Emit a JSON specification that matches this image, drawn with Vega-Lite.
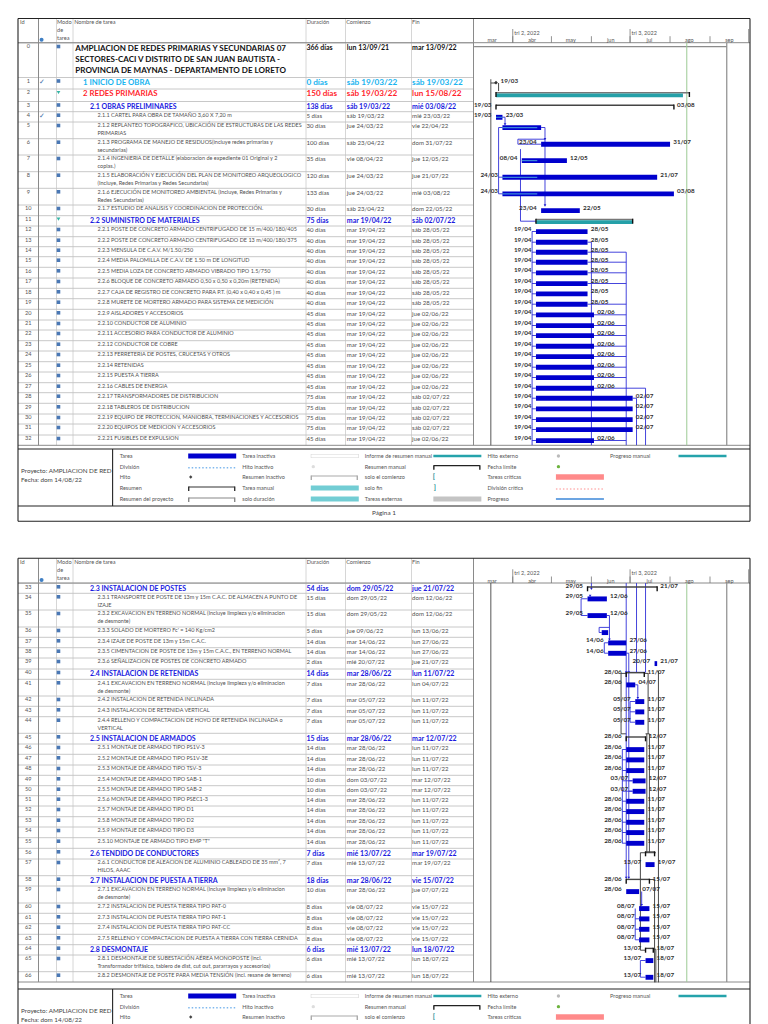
{"$schema":"https://vega.github.io/schema/vega-lite/v6.json","width":768,"height":1024,"padding":0,"autosize":{"type":"none"},"background":"white",
"config":{"font":"Lato","axis":{"disable":true},"legend":{"disable":true},"view":{"stroke":null}},
"datasets":{
"tareas":[
{"id":0,"fila":0,"tipo":"proyecto","nombre":"AMPLIACION DE REDES PRIMARIAS Y SECUNDARIAS 07\nSECTORES-CACI V DISTRITO DE SAN JUAN BAUTISTA -\nPROVINCIA DE MAYNAS - DEPARTAMENTO DE LORETO","dur":"366 días","com":"lun 13/09/21","fin":"mar 13/09/22","ini":"2021-09-13","ter":"2022-09-13","ei":"","ef":""},
{"id":1,"fila":1,"tipo":"inicio","nombre":"1 INICIO DE OBRA","dur":"0 días","com":"sáb 19/03/22","fin":"sáb 19/03/22","ini":"2022-03-19","ter":"2022-03-19","ei":"","ef":"19/03"},
{"id":2,"fila":2,"tipo":"redes","nombre":"2 REDES PRIMARIAS","dur":"150 días","com":"sáb 19/03/22","fin":"lun 15/08/22","ini":"2022-03-19","ter":"2022-08-15","ei":"","ef":"","av":"2022-08-10"},
{"id":3,"fila":3,"tipo":"grupo","nombre":"2.1 OBRAS PRELIMINARES","dur":"138 días","com":"sáb 19/03/22","fin":"mié 03/08/22","ini":"2022-03-19","ter":"2022-08-03","ei":"19/03","ef":"03/08"},
{"id":4,"fila":4,"tipo":"tarea","nombre":"2.1.1 CARTEL PARA OBRA DE TAMAÑO 3,60 X 7,20 m","dur":"5 días","com":"sáb 19/03/22","fin":"mié 23/03/22","ini":"2022-03-19","ter":"2022-03-23","ei":"19/03","ef":"23/03","av":"2022-03-23"},
{"id":5,"fila":5,"tipo":"tarea","nombre":"2.1.2 REPLANTEO TOPOGRAFICO, UBICACIÓN DE ESTRUCTURAS DE LAS REDES\nPRIMARIAS","dur":"30 días","com":"jue 24/03/22","fin":"vie 22/04/22","ini":"2022-03-24","ter":"2022-04-22","ei":"","ef":"","av":"2022-04-19"},
{"id":6,"fila":6,"tipo":"tarea","nombre":"2.1.3 PROGRAMA DE MANEJO DE RESIDUOS(incluye redes primarias y\nsecundarias)","dur":"100 días","com":"sáb 23/04/22","fin":"dom 31/07/22","ini":"2022-04-23","ter":"2022-07-31","ei":"23/04","ef":"31/07"},
{"id":7,"fila":7,"tipo":"tarea","nombre":"2.1.4 INGENIERIA DE DETALLE (elaboracion de expediente 01 Original y 2\ncopias.)","dur":"35 días","com":"vie 08/04/22","fin":"jue 12/05/22","ini":"2022-04-08","ter":"2022-05-12","ei":"08/04","ef":"12/05","av":"2022-04-19"},
{"id":8,"fila":8,"tipo":"tarea","nombre":"2.1.5 ELABORACIÓN Y EJECUCIÓN DEL PLAN DE MONITOREO ARQUEOLOGICO\n(Incluye, Redes Primarias y Redes Secundarias)","dur":"120 días","com":"jue 24/03/22","fin":"jue 21/07/22","ini":"2022-03-24","ter":"2022-07-21","ei":"24/03","ef":"21/07","av":"2022-04-19"},
{"id":9,"fila":9,"tipo":"tarea","nombre":"2.1.6 EJECUCIÓN DE MONITOREO AMBIENTAL (Incluye, Redes Primarias y\nRedes Secundarias)","dur":"133 días","com":"jue 24/03/22","fin":"mié 03/08/22","ini":"2022-03-24","ter":"2022-08-03","ei":"24/03","ef":"03/08","av":"2022-04-19"},
{"id":10,"fila":10,"tipo":"tarea","nombre":"2.1.7 ESTUDIO DE ANALISIS Y COORDINACION DE PROTECCIÓN.","dur":"30 días","com":"sáb 23/04/22","fin":"dom 22/05/22","ini":"2022-04-23","ter":"2022-05-22","ei":"23/04","ef":"22/05"},
{"id":11,"fila":11,"tipo":"grupo","nombre":"2.2 SUMINISTRO DE MATERIALES","dur":"75 días","com":"mar 19/04/22","fin":"sáb 02/07/22","ini":"2022-04-19","ter":"2022-07-02","ei":"","ef":"","av":"2022-07-02"},
{"id":12,"fila":12,"tipo":"tarea","nombre":"2.2.1 POSTE DE CONCRETO ARMADO CENTRIFUGADO DE 15 m/400/180/405","dur":"40 días","com":"mar 19/04/22","fin":"sáb 28/05/22","ini":"2022-04-19","ter":"2022-05-28","ei":"19/04","ef":"28/05"},
{"id":13,"fila":13,"tipo":"tarea","nombre":"2.2.2 POSTE DE CONCRETO ARMADO CENTRIFUGADO DE 13 m/400/180/375","dur":"40 días","com":"mar 19/04/22","fin":"sáb 28/05/22","ini":"2022-04-19","ter":"2022-05-28","ei":"19/04","ef":"28/05"},
{"id":14,"fila":14,"tipo":"tarea","nombre":"2.2.3 MENSULA DE C.A.V. M/1.50/250","dur":"40 días","com":"mar 19/04/22","fin":"sáb 28/05/22","ini":"2022-04-19","ter":"2022-05-28","ei":"19/04","ef":"28/05"},
{"id":15,"fila":15,"tipo":"tarea","nombre":"2.2.4 MEDIA PALOMILLA DE C.A.V. DE 1.50 m DE LONGITUD","dur":"40 días","com":"mar 19/04/22","fin":"sáb 28/05/22","ini":"2022-04-19","ter":"2022-05-28","ei":"19/04","ef":"28/05"},
{"id":16,"fila":16,"tipo":"tarea","nombre":"2.2.5 MEDIA LOZA DE CONCRETO ARMADO VIBRADO TIPO 1.5/750","dur":"40 días","com":"mar 19/04/22","fin":"sáb 28/05/22","ini":"2022-04-19","ter":"2022-05-28","ei":"19/04","ef":"28/05"},
{"id":17,"fila":17,"tipo":"tarea","nombre":"2.2.6 BLOQUE DE CONCRETO ARMADO 0,50 x 0,50 x 0,20m (RETENIDA)","dur":"40 días","com":"mar 19/04/22","fin":"sáb 28/05/22","ini":"2022-04-19","ter":"2022-05-28","ei":"19/04","ef":"28/05"},
{"id":18,"fila":18,"tipo":"tarea","nombre":"2.2.7 CAJA DE REGISTRO DE CONCRETO PARA P.T. (0,40 x 0,40 x 0,45 ) m","dur":"40 días","com":"mar 19/04/22","fin":"sáb 28/05/22","ini":"2022-04-19","ter":"2022-05-28","ei":"19/04","ef":"28/05"},
{"id":19,"fila":19,"tipo":"tarea","nombre":"2.2.8 MURETE DE MORTERO ARMADO PARA SISTEMA DE MEDICIÓN","dur":"40 días","com":"mar 19/04/22","fin":"sáb 28/05/22","ini":"2022-04-19","ter":"2022-05-28","ei":"19/04","ef":"28/05"},
{"id":20,"fila":20,"tipo":"tarea","nombre":"2.2.9 AISLADORES Y ACCESORIOS","dur":"45 días","com":"mar 19/04/22","fin":"jue 02/06/22","ini":"2022-04-19","ter":"2022-06-02","ei":"19/04","ef":"02/06"},
{"id":21,"fila":21,"tipo":"tarea","nombre":"2.2.10 CONDUCTOR DE ALUMINIO","dur":"45 días","com":"mar 19/04/22","fin":"jue 02/06/22","ini":"2022-04-19","ter":"2022-06-02","ei":"19/04","ef":"02/06"},
{"id":22,"fila":22,"tipo":"tarea","nombre":"2.2.11 ACCESORIO PARA CONDUCTOR DE ALUMINIO","dur":"45 días","com":"mar 19/04/22","fin":"jue 02/06/22","ini":"2022-04-19","ter":"2022-06-02","ei":"19/04","ef":"02/06"},
{"id":23,"fila":23,"tipo":"tarea","nombre":"2.2.12 CONDUCTOR DE COBRE","dur":"45 días","com":"mar 19/04/22","fin":"jue 02/06/22","ini":"2022-04-19","ter":"2022-06-02","ei":"19/04","ef":"02/06"},
{"id":24,"fila":24,"tipo":"tarea","nombre":"2.2.13 FERRETERIA DE POSTES, CRUCETAS Y OTROS","dur":"45 días","com":"mar 19/04/22","fin":"jue 02/06/22","ini":"2022-04-19","ter":"2022-06-02","ei":"19/04","ef":"02/06"},
{"id":25,"fila":25,"tipo":"tarea","nombre":"2.2.14 RETENIDAS","dur":"45 días","com":"mar 19/04/22","fin":"jue 02/06/22","ini":"2022-04-19","ter":"2022-06-02","ei":"19/04","ef":"02/06"},
{"id":26,"fila":26,"tipo":"tarea","nombre":"2.2.15 PUESTA A TIERRA","dur":"45 días","com":"mar 19/04/22","fin":"jue 02/06/22","ini":"2022-04-19","ter":"2022-06-02","ei":"19/04","ef":"02/06"},
{"id":27,"fila":27,"tipo":"tarea","nombre":"2.2.16 CABLES DE ENERGIA","dur":"45 días","com":"mar 19/04/22","fin":"jue 02/06/22","ini":"2022-04-19","ter":"2022-06-02","ei":"19/04","ef":"02/06"},
{"id":28,"fila":28,"tipo":"tarea","nombre":"2.2.17 TRANSFORMADORES DE DISTRIBUCION","dur":"75 días","com":"mar 19/04/22","fin":"sáb 02/07/22","ini":"2022-04-19","ter":"2022-07-02","ei":"19/04","ef":"02/07"},
{"id":29,"fila":29,"tipo":"tarea","nombre":"2.2.18 TABLEROS DE DISTRIBUCION","dur":"75 días","com":"mar 19/04/22","fin":"sáb 02/07/22","ini":"2022-04-19","ter":"2022-07-02","ei":"19/04","ef":"02/07"},
{"id":30,"fila":30,"tipo":"tarea","nombre":"2.2.19 EQUIPO DE PROTECCION, MANIOBRA, TERMINACIONES Y ACCESORIOS","dur":"75 días","com":"mar 19/04/22","fin":"sáb 02/07/22","ini":"2022-04-19","ter":"2022-07-02","ei":"19/04","ef":"02/07"},
{"id":31,"fila":31,"tipo":"tarea","nombre":"2.2.20 EQUIPOS DE MEDICION Y ACCESORIOS","dur":"75 días","com":"mar 19/04/22","fin":"sáb 02/07/22","ini":"2022-04-19","ter":"2022-07-02","ei":"19/04","ef":"02/07"},
{"id":32,"fila":32,"tipo":"tarea","nombre":"2.2.21 FUSIBLES DE EXPULSION","dur":"45 días","com":"mar 19/04/22","fin":"jue 02/06/22","ini":"2022-04-19","ter":"2022-06-02","ei":"19/04","ef":"02/06"},
{"id":33,"fila":45,"tipo":"grupo","nombre":"2.3 INSTALACION DE POSTES","dur":"54 días","com":"dom 29/05/22","fin":"jue 21/07/22","ini":"2022-05-29","ter":"2022-07-21","ei":"29/05","ef":"21/07"},
{"id":34,"fila":46,"tipo":"tarea","nombre":"2.3.1 TRANSPORTE DE POSTE DE 13m y 15m C.A.C. DE ALMACEN A PUNTO DE\nIZAJE","dur":"15 días","com":"dom 29/05/22","fin":"dom 12/06/22","ini":"2022-05-29","ter":"2022-06-12","ei":"29/05","ef":"12/06"},
{"id":35,"fila":47,"tipo":"tarea","nombre":"2.3.2 EXCAVACION EN TERRENO NORMAL (Incluye limpieza y/o eliminacion\nde desmonte)","dur":"15 días","com":"dom 29/05/22","fin":"dom 12/06/22","ini":"2022-05-29","ter":"2022-06-12","ei":"29/05","ef":"12/06"},
{"id":36,"fila":48,"tipo":"tarea","nombre":"2.3.3 SOLADO DE MORTERO Fc' = 140 Kg/cm2","dur":"5 días","com":"jue 09/06/22","fin":"lun 13/06/22","ini":"2022-06-09","ter":"2022-06-13","ei":"","ef":""},
{"id":37,"fila":49,"tipo":"tarea","nombre":"2.3.4 IZAJE DE POSTE DE 13m y 15m C.A.C.","dur":"14 días","com":"mar 14/06/22","fin":"lun 27/06/22","ini":"2022-06-14","ter":"2022-06-27","ei":"14/06","ef":"27/06"},
{"id":38,"fila":50,"tipo":"tarea","nombre":"2.3.5 CIMENTACION DE POSTE DE 13m y 15m C.A.C., EN TERRENO NORMAL","dur":"14 días","com":"mar 14/06/22","fin":"lun 27/06/22","ini":"2022-06-14","ter":"2022-06-27","ei":"14/06","ef":"27/06"},
{"id":39,"fila":51,"tipo":"tarea","nombre":"2.3.6 SEÑALIZACION DE POSTES DE CONCRETO ARMADO","dur":"2 días","com":"mié 20/07/22","fin":"jue 21/07/22","ini":"2022-07-20","ter":"2022-07-21","ei":"20/07","ef":"21/07"},
{"id":40,"fila":52,"tipo":"grupo","nombre":"2.4 INSTALACION DE RETENIDAS","dur":"14 días","com":"mar 28/06/22","fin":"lun 11/07/22","ini":"2022-06-28","ter":"2022-07-11","ei":"28/06","ef":"11/07"},
{"id":41,"fila":53,"tipo":"tarea","nombre":"2.4.1 EXCAVACION EN TERRENO NORMAL (Incluye limpieza y/o eliminacion\nde desmonte)","dur":"7 días","com":"mar 28/06/22","fin":"lun 04/07/22","ini":"2022-06-28","ter":"2022-07-04","ei":"28/06","ef":"04/07"},
{"id":42,"fila":54,"tipo":"tarea","nombre":"2.4.2 INSTALACION DE RETENIDA INCLINADA","dur":"7 días","com":"mar 05/07/22","fin":"lun 11/07/22","ini":"2022-07-05","ter":"2022-07-11","ei":"05/07","ef":"11/07"},
{"id":43,"fila":55,"tipo":"tarea","nombre":"2.4.3 INSTALACION DE RETENIDA VERTICAL","dur":"7 días","com":"mar 05/07/22","fin":"lun 11/07/22","ini":"2022-07-05","ter":"2022-07-11","ei":"05/07","ef":"11/07"},
{"id":44,"fila":56,"tipo":"tarea","nombre":"2.4.4 RELLENO Y COMPACTACION DE HOYO DE RETENIDA INCLINADA o\nVERTICAL","dur":"7 días","com":"mar 05/07/22","fin":"lun 11/07/22","ini":"2022-07-05","ter":"2022-07-11","ei":"05/07","ef":"11/07"},
{"id":45,"fila":57,"tipo":"grupo","nombre":"2.5 INSTALACION DE ARMADOS","dur":"15 días","com":"mar 28/06/22","fin":"mar 12/07/22","ini":"2022-06-28","ter":"2022-07-12","ei":"28/06","ef":"12/07"},
{"id":46,"fila":58,"tipo":"tarea","nombre":"2.5.1 MONTAJE DE ARMADO TIPO PS1V-3","dur":"14 días","com":"mar 28/06/22","fin":"lun 11/07/22","ini":"2022-06-28","ter":"2022-07-11","ei":"28/06","ef":"11/07"},
{"id":47,"fila":59,"tipo":"tarea","nombre":"2.5.2 MONTAJE DE ARMADO TIPO PS1V-3E","dur":"14 días","com":"mar 28/06/22","fin":"lun 11/07/22","ini":"2022-06-28","ter":"2022-07-11","ei":"28/06","ef":"11/07"},
{"id":48,"fila":60,"tipo":"tarea","nombre":"2.5.3 MONTAJE DE ARMADO TIPO TSV-3","dur":"14 días","com":"mar 28/06/22","fin":"lun 11/07/22","ini":"2022-06-28","ter":"2022-07-11","ei":"28/06","ef":"11/07"},
{"id":49,"fila":61,"tipo":"tarea","nombre":"2.5.4 MONTAJE DE ARMADO TIPO SAB-1","dur":"10 días","com":"dom 03/07/22","fin":"mar 12/07/22","ini":"2022-07-03","ter":"2022-07-12","ei":"03/07","ef":"12/07"},
{"id":50,"fila":62,"tipo":"tarea","nombre":"2.5.5 MONTAJE DE ARMADO TIPO SAB-2","dur":"10 días","com":"dom 03/07/22","fin":"mar 12/07/22","ini":"2022-07-03","ter":"2022-07-12","ei":"03/07","ef":"12/07"},
{"id":51,"fila":63,"tipo":"tarea","nombre":"2.5.6 MONTAJE DE ARMADO TIPO PSEC1-3","dur":"14 días","com":"mar 28/06/22","fin":"lun 11/07/22","ini":"2022-06-28","ter":"2022-07-11","ei":"28/06","ef":"11/07"},
{"id":52,"fila":64,"tipo":"tarea","nombre":"2.5.7 MONTAJE DE ARMADO TIPO D1","dur":"14 días","com":"mar 28/06/22","fin":"lun 11/07/22","ini":"2022-06-28","ter":"2022-07-11","ei":"28/06","ef":"11/07"},
{"id":53,"fila":65,"tipo":"tarea","nombre":"2.5.8 MONTAJE DE ARMADO TIPO D2","dur":"14 días","com":"mar 28/06/22","fin":"lun 11/07/22","ini":"2022-06-28","ter":"2022-07-11","ei":"28/06","ef":"11/07"},
{"id":54,"fila":66,"tipo":"tarea","nombre":"2.5.9 MONTAJE DE ARMADO TIPO D3","dur":"14 días","com":"mar 28/06/22","fin":"lun 11/07/22","ini":"2022-06-28","ter":"2022-07-11","ei":"28/06","ef":"11/07"},
{"id":55,"fila":67,"tipo":"tarea","nombre":"2.5.10 MONTAJE DE ARMADO TIPO EMP \"T\"","dur":"14 días","com":"mar 28/06/22","fin":"lun 11/07/22","ini":"2022-06-28","ter":"2022-07-11","ei":"28/06","ef":"11/07"},
{"id":56,"fila":68,"tipo":"grupo","nombre":"2.6 TENDIDO DE CONDUCTORES","dur":"7 días","com":"mié 13/07/22","fin":"mar 19/07/22","ini":"2022-07-13","ter":"2022-07-19","ei":"","ef":""},
{"id":57,"fila":69,"tipo":"tarea","nombre":"2.6.1 CONDUCTOR DE ALEACION DE ALUMINIO CABLEADO DE 35 mm², 7\nHILOS, AAAC","dur":"7 días","com":"mié 13/07/22","fin":"mar 19/07/22","ini":"2022-07-13","ter":"2022-07-19","ei":"13/07","ef":"19/07"},
{"id":58,"fila":70,"tipo":"grupo","nombre":"2.7 INSTALACION DE PUESTA A TIERRA","dur":"18 días","com":"mar 28/06/22","fin":"vie 15/07/22","ini":"2022-06-28","ter":"2022-07-15","ei":"28/06","ef":"15/07"},
{"id":59,"fila":71,"tipo":"tarea","nombre":"2.7.1 EXCAVACION EN TERRENO NORMAL (Incluye limpieza y/o eliminacion\nde desmonte)","dur":"10 días","com":"mar 28/06/22","fin":"jue 07/07/22","ini":"2022-06-28","ter":"2022-07-07","ei":"28/06","ef":"07/07"},
{"id":60,"fila":72,"tipo":"tarea","nombre":"2.7.2 INSTALACION DE PUESTA TIERRA TIPO PAT-0","dur":"8 días","com":"vie 08/07/22","fin":"vie 15/07/22","ini":"2022-07-08","ter":"2022-07-15","ei":"08/07","ef":"15/07"},
{"id":61,"fila":73,"tipo":"tarea","nombre":"2.7.3 INSTALACION DE PUESTA TIERRA TIPO PAT-1","dur":"8 días","com":"vie 08/07/22","fin":"vie 15/07/22","ini":"2022-07-08","ter":"2022-07-15","ei":"08/07","ef":"15/07"},
{"id":62,"fila":74,"tipo":"tarea","nombre":"2.7.4 INSTALACION DE PUESTA TIERRA TIPO PAT-CC","dur":"8 días","com":"vie 08/07/22","fin":"vie 15/07/22","ini":"2022-07-08","ter":"2022-07-15","ei":"08/07","ef":"15/07"},
{"id":63,"fila":75,"tipo":"tarea","nombre":"2.7.5 RELLENO Y COMPACTACION DE PUESTA A TIERRA CON TIERRA CERNIDA","dur":"8 días","com":"vie 08/07/22","fin":"vie 15/07/22","ini":"2022-07-08","ter":"2022-07-15","ei":"08/07","ef":"15/07"},
{"id":64,"fila":76,"tipo":"grupo","nombre":"2.8 DESMONTAJE","dur":"6 días","com":"mié 13/07/22","fin":"lun 18/07/22","ini":"2022-07-13","ter":"2022-07-18","ei":"13/07","ef":"18/07"},
{"id":65,"fila":77,"tipo":"tarea","nombre":"2.8.1 DESMONTAJE DE SUBESTACIÓN AÉREA MONOPOSTE (incl.\nTransformador trifásico, tablero de dist, cut out, pararrayos y accesorios)","dur":"6 días","com":"mié 13/07/22","fin":"lun 18/07/22","ini":"2022-07-13","ter":"2022-07-18","ei":"13/07","ef":"18/07"},
{"id":66,"fila":78,"tipo":"tarea","nombre":"2.8.2 DESMONTAJE DE POSTE PARA MEDIA TENSIÓN (incl. resane de terreno)","dur":"6 días","com":"mié 13/07/22","fin":"lun 18/07/22","ini":"2022-07-13","ter":"2022-07-18","ei":"13/07","ef":"18/07"}
],
"lineas":[
{"tono":"borde","col":0,"col2":8,"fila":-2,"fila2":-2},{"tono":"borde","col":0,"col2":8,"fila":34,"fila2":34},{"tono":"borde","col":0,"col2":8,"fila":40,"fila2":40},{"tono":"borde","col":0,"col2":8,"fila":42,"fila2":42},{"tono":"borde","col":0,"col2":0,"fila":-2,"fila2":42},{"tono":"borde","col":8,"col2":8,"fila":-2,"fila2":42},{"tono":"borde","col":3.17,"col2":3.17,"fila":34,"fila2":40},
{"tono":"borde","col":0,"col2":8,"fila":43,"fila2":43},{"tono":"borde","col":0,"col2":8,"fila":80,"fila2":80},{"tono":"borde","col":0,"col2":0,"fila":43,"fila2":86},{"tono":"borde","col":8,"col2":8,"fila":43,"fila2":86},{"tono":"borde","col":3.17,"col2":3.17,"fila":80,"fila2":86},
{"tono":"medio","col":0,"col2":8,"fila":-1,"fila2":-1},{"tono":"medio","col":0,"col2":8,"fila":33,"fila2":33},{"tono":"medio","col":1,"col2":1,"fila":-2,"fila2":33},{"tono":"medio","col":7,"col2":7,"fila":-2,"fila2":33},
{"tono":"medio","col":0,"col2":8,"fila":44,"fila2":44},{"tono":"medio","col":0,"col2":8,"fila":79,"fila2":79},{"tono":"medio","col":1,"col2":1,"fila":43,"fila2":79},{"tono":"medio","col":7,"col2":7,"fila":43,"fila2":79},
{"tono":"claro","col":2,"col2":2,"fila":-2,"fila2":33},{"tono":"claro","col":3,"col2":3,"fila":-2,"fila2":33},{"tono":"claro","col":4,"col2":4,"fila":-2,"fila2":33},{"tono":"claro","col":5,"col2":5,"fila":-2,"fila2":33},{"tono":"claro","col":6,"col2":6,"fila":-2,"fila2":33},
{"tono":"claro","col":2,"col2":2,"fila":43,"fila2":79},{"tono":"claro","col":3,"col2":3,"fila":43,"fila2":79},{"tono":"claro","col":4,"col2":4,"fila":43,"fila2":79},{"tono":"claro","col":5,"col2":5,"fila":43,"fila2":79},{"tono":"claro","col":6,"col2":6,"fila":43,"fila2":79}
],
"cabecera":[
{"fila":-2,"col":0.1,"texto":"Id"},{"fila":-2,"col":2.03,"texto":"Modo\nde\ntarea"},{"fila":-2,"col":3.005,"texto":"Nombre de tarea"},{"fila":-2,"col":4.02,"texto":"Duración"},{"fila":-2,"col":5.01,"texto":"Comienzo"},{"fila":-2,"col":6.01,"texto":"Fin"},
{"fila":43,"col":0.1,"texto":"Id"},{"fila":43,"col":2.03,"texto":"Modo\nde\ntarea"},{"fila":43,"col":3.005,"texto":"Nombre de tarea"},{"fila":43,"col":4.02,"texto":"Duración"},{"fila":43,"col":5.01,"texto":"Comienzo"},{"fila":43,"col":6.01,"texto":"Fin"}
],
"paginas":[{"fila":-1},{"fila":44}],
"pies":[{"fila":36.17,"texto":"Proyecto: AMPLIACION DE RED\nFecha: dom 14/08/22"},{"fila":82.17,"texto":"Proyecto: AMPLIACION DE RED\nFecha: dom 14/08/22"}],
"meses":[
{"fila":-1,"mes":"mar","medio":"2022-03-16"},{"fila":-1,"mes":"abr","inicio":"2022-04-01","medio":"2022-04-16","tri":"tri 2, 2022"},{"fila":-1,"mes":"may","inicio":"2022-05-01","medio":"2022-05-16"},{"fila":-1,"mes":"jun","inicio":"2022-06-01","medio":"2022-06-16"},{"fila":-1,"mes":"jul","inicio":"2022-07-01","medio":"2022-07-16","tri":"tri 3, 2022"},{"fila":-1,"mes":"ago","inicio":"2022-08-01","medio":"2022-08-16"},{"fila":-1,"mes":"sep","inicio":"2022-09-01","medio":"2022-09-16"},
{"fila":44,"mes":"mar","medio":"2022-03-16"},{"fila":44,"mes":"abr","inicio":"2022-04-01","medio":"2022-04-16","tri":"tri 2, 2022"},{"fila":44,"mes":"may","inicio":"2022-05-01","medio":"2022-05-16"},{"fila":44,"mes":"jun","inicio":"2022-06-01","medio":"2022-06-16"},{"fila":44,"mes":"jul","inicio":"2022-07-01","medio":"2022-07-16","tri":"tri 3, 2022"},{"fila":44,"mes":"ago","inicio":"2022-08-01","medio":"2022-08-16"},{"fila":44,"mes":"sep","inicio":"2022-09-01","medio":"2022-09-16"}
],
"finaltri":[{"fila":-1,"fecha":"2022-10-01"},{"fila":44,"fecha":"2022-10-01"}],
"guias":[
{"c":"gris","x1":"2022-03-02","x2":"2022-09-14","fila":0.107,"f2":0.107},{"c":"gris","x1":"2022-09-14","x2":"2022-09-14","fila":0,"f2":33},{"c":"gris","x1":"2022-09-14","x2":"2022-09-14","fila":44,"f2":79},
{"c":"verde","x1":"2022-08-14","x2":"2022-08-14","fila":0,"f2":33},{"c":"verde","x1":"2022-08-14","x2":"2022-08-14","fila":44,"f2":79},
{"c":"negro","x1":"2022-03-15","x2":"2022-03-15","fila":1.15,"f2":33},{"c":"negro","x1":"2022-03-15","x2":"2022-03-15","fila":44,"f2":79}
],
"enlaces":[
{"c":"n","x1":"2022-03-15","x2":"2022-03-19","fila":1,"f2":1},{"c":"n","x1":"2022-03-21","x2":"2022-03-21","fila":1,"f2":1.7},
{"c":"a","x1":"2022-03-24","x2":"2022-03-26","fila":4,"f2":4},{"c":"a","x1":"2022-03-26","x2":"2022-03-26","fila":4,"f2":4.7},
{"c":"a","x1":"2022-03-21","x2":"2022-03-21","fila":5,"f2":9},{"c":"a","x1":"2022-03-21","x2":"2022-03-24","fila":5,"f2":5},{"c":"a","x1":"2022-03-21","x2":"2022-03-24","fila":8,"f2":8},{"c":"a","x1":"2022-03-21","x2":"2022-03-24","fila":9,"f2":9},
{"c":"a","x1":"2022-04-23","x2":"2022-04-26","fila":5,"f2":5},{"c":"a","x1":"2022-04-26","x2":"2022-04-26","fila":5,"f2":9.7},{"c":"a","x1":"2022-04-05","x2":"2022-04-26","fila":5.7,"f2":5.7},{"c":"a","x1":"2022-04-05","x2":"2022-04-05","fila":5.7,"f2":6},{"c":"a","x1":"2022-04-05","x2":"2022-04-23","fila":6,"f2":6},
{"c":"a","x1":"2022-04-07","x2":"2022-04-07","fila":6.3,"f2":11},{"c":"a","x1":"2022-04-07","x2":"2022-04-19","fila":11,"f2":11},
{"c":"a","x1":"2022-04-16","x2":"2022-04-16","fila":12,"f2":32.45},
{"c":"a","x1":"2022-05-29","x2":"2022-06-01","fila":13,"f2":13},{"c":"a","x1":"2022-06-01","x2":"2022-06-01","fila":13,"f2":32.45},
{"c":"a","x1":"2022-06-28","x2":"2022-06-28","fila":14,"f2":32.45},
{"c":"a","x1":"2022-05-29","x2":"2022-06-28","fila":14,"f2":14},{"c":"a","x1":"2022-05-29","x2":"2022-06-28","fila":15,"f2":15},{"c":"a","x1":"2022-05-29","x2":"2022-06-28","fila":16,"f2":16},{"c":"a","x1":"2022-05-29","x2":"2022-06-28","fila":17,"f2":17},{"c":"a","x1":"2022-05-29","x2":"2022-06-28","fila":19,"f2":19},
{"c":"a","x1":"2022-06-03","x2":"2022-06-28","fila":20,"f2":20},{"c":"a","x1":"2022-06-03","x2":"2022-06-28","fila":21,"f2":21},{"c":"a","x1":"2022-06-03","x2":"2022-06-28","fila":22,"f2":22},{"c":"a","x1":"2022-06-03","x2":"2022-06-28","fila":23,"f2":23},{"c":"a","x1":"2022-06-03","x2":"2022-06-28","fila":24,"f2":24},{"c":"a","x1":"2022-06-03","x2":"2022-06-28","fila":25,"f2":25},{"c":"a","x1":"2022-06-03","x2":"2022-06-28","fila":26,"f2":26},{"c":"a","x1":"2022-06-03","x2":"2022-06-28","fila":32,"f2":32},
{"c":"a","x1":"2022-06-03","x2":"2022-07-13","fila":27,"f2":27},{"c":"a","x1":"2022-07-13","x2":"2022-07-13","fila":27,"f2":32.45},
{"c":"a","x1":"2022-07-03","x2":"2022-07-06","fila":28,"f2":28},{"c":"a","x1":"2022-07-06","x2":"2022-07-06","fila":28,"f2":32.45},
{"c":"a","x1":"2022-06-01","x2":"2022-06-01","fila":43.78,"f2":45},
{"c":"a","x1":"2022-06-28","x2":"2022-06-28","fila":43.78,"f2":69.8},{"c":"a","x1":"2022-07-06","x2":"2022-07-06","fila":43.78,"f2":51.8},{"c":"a","x1":"2022-07-13","x2":"2022-07-13","fila":43.78,"f2":51.8},{"c":"a","x1":"2022-06-28","x2":"2022-07-13","fila":51.8,"f2":51.8},
{"c":"a","x1":"2022-06-30","x2":"2022-06-30","fila":50,"f2":69.8},{"c":"a","x1":"2022-06-28","x2":"2022-06-30","fila":50,"f2":50},
{"c":"a","x1":"2022-05-24","x2":"2022-05-24","fila":46,"f2":47},{"c":"a","x1":"2022-05-24","x2":"2022-05-29","fila":46,"f2":46},{"c":"a","x1":"2022-05-24","x2":"2022-05-29","fila":47,"f2":47},
{"c":"a","x1":"2022-06-13","x2":"2022-06-15","fila":47,"f2":47},{"c":"a","x1":"2022-06-15","x2":"2022-06-15","fila":47,"f2":48.7},{"c":"a","x1":"2022-06-07","x2":"2022-06-15","fila":47.7,"f2":47.7},{"c":"a","x1":"2022-06-07","x2":"2022-06-07","fila":47.7,"f2":48},{"c":"a","x1":"2022-06-07","x2":"2022-06-09","fila":48,"f2":48},
{"c":"a","x1":"2022-06-11","x2":"2022-06-11","fila":49,"f2":50},{"c":"a","x1":"2022-06-11","x2":"2022-06-14","fila":49,"f2":49},{"c":"a","x1":"2022-06-11","x2":"2022-06-14","fila":50,"f2":50},
{"c":"a","x1":"2022-07-07","x2":"2022-07-07","fila":53,"f2":53.8},{"c":"a","x1":"2022-07-05","x2":"2022-07-07","fila":53,"f2":53},
{"c":"a","x1":"2022-07-01","x2":"2022-07-01","fila":54,"f2":56},{"c":"a","x1":"2022-07-01","x2":"2022-07-05","fila":54,"f2":54},{"c":"a","x1":"2022-07-01","x2":"2022-07-05","fila":55,"f2":55},{"c":"a","x1":"2022-07-01","x2":"2022-07-05","fila":56,"f2":56},
{"c":"a","x1":"2022-06-25","x2":"2022-06-25","fila":58,"f2":67},{"c":"a","x1":"2022-06-25","x2":"2022-07-03","fila":61,"f2":61},{"c":"a","x1":"2022-06-25","x2":"2022-07-03","fila":62,"f2":62},
{"c":"a","x1":"2022-07-10","x2":"2022-07-10","fila":71,"f2":71.8},{"c":"a","x1":"2022-07-05","x2":"2022-07-05","fila":72,"f2":75},{"c":"a","x1":"2022-07-05","x2":"2022-07-08","fila":73,"f2":73},{"c":"a","x1":"2022-07-05","x2":"2022-07-08","fila":74,"f2":74},{"c":"a","x1":"2022-07-05","x2":"2022-07-08","fila":75,"f2":75},
{"c":"a","x1":"2022-07-09","x2":"2022-07-09","fila":77,"f2":78},{"c":"a","x1":"2022-07-09","x2":"2022-07-13","fila":77,"f2":77},{"c":"a","x1":"2022-07-09","x2":"2022-07-13","fila":78,"f2":78},
{"c":"n","x1":"2022-06-24","x2":"2022-06-24","fila":51.9,"f2":56.7},{"c":"n","x1":"2022-06-24","x2":"2022-06-28","fila":51.9,"f2":51.9},{"c":"n","x1":"2022-06-24","x2":"2022-06-28","fila":56.7,"f2":56.7},
{"c":"n","x1":"2022-07-15","x2":"2022-07-15","fila":51.9,"f2":56.7},{"c":"n","x1":"2022-07-12","x2":"2022-07-15","fila":51.9,"f2":51.9},
{"c":"n","x1":"2022-07-23","x2":"2022-07-23","fila":51.7,"f2":78.5},{"c":"n","x1":"2022-07-22","x2":"2022-07-23","fila":51.7,"f2":51.7},
{"c":"n","x1":"2022-07-14","x2":"2022-07-14","fila":56.7,"f2":67.9},{"c":"n","x1":"2022-07-16","x2":"2022-07-16","fila":56.7,"f2":67.9},{"c":"n","x1":"2022-07-13","x2":"2022-07-16","fila":56.7,"f2":56.7},
{"c":"n","x1":"2022-07-09","x2":"2022-07-09","fila":67.9,"f2":76},{"c":"n","x1":"2022-07-09","x2":"2022-07-21","fila":67.9,"f2":67.9},{"c":"n","x1":"2022-07-09","x2":"2022-07-13","fila":76,"f2":76},
{"c":"n","x1":"2022-07-20","x2":"2022-07-20","fila":69.9,"f2":78.5},{"c":"n","x1":"2022-07-16","x2":"2022-07-20","fila":69.9,"f2":69.9},
{"c":"n","x1":"2022-07-21","x2":"2022-07-21","fila":75.9,"f2":78.5},{"c":"n","x1":"2022-07-19","x2":"2022-07-21","fila":75.9,"f2":75.9}
],
"flechas":[
{"fecha":"2022-03-26","fila":4.7},{"fecha":"2022-04-26","fila":5.7},{"fecha":"2022-04-26","fila":9.7},{"fecha":"2022-06-01","fila":45},{"fecha":"2022-05-31","fila":45.7},{"fecha":"2022-06-15","fila":48.7},{"fecha":"2022-06-28","fila":51.8},{"fecha":"2022-06-30","fila":51.8},{"fecha":"2022-07-07","fila":53.8},{"fecha":"2022-06-28","fila":69.8},{"fecha":"2022-06-30","fila":69.8},{"fecha":"2022-07-10","fila":71.8}
],
"leyenda":[
{"col":1,"fila":35,"etiqueta":"Tarea"},{"col":1,"fila":36,"etiqueta":"División"},{"col":1,"fila":37,"etiqueta":"Hito"},{"col":1,"fila":38,"etiqueta":"Resumen"},{"col":1,"fila":39,"etiqueta":"Resumen del proyecto"},
{"col":2,"fila":35,"etiqueta":"Tarea inactiva"},{"col":2,"fila":36,"etiqueta":"Hito inactivo"},{"col":2,"fila":37,"etiqueta":"Resumen inactivo"},{"col":2,"fila":38,"etiqueta":"Tarea manual"},{"col":2,"fila":39,"etiqueta":"solo duración"},
{"col":3,"fila":35,"etiqueta":"Informe de resumen manual"},{"col":3,"fila":36,"etiqueta":"Resumen manual"},{"col":3,"fila":37,"etiqueta":"solo el comienzo"},{"col":3,"fila":38,"etiqueta":"solo fin"},{"col":3,"fila":39,"etiqueta":"Tareas externas"},
{"col":4,"fila":35,"etiqueta":"Hito externo"},{"col":4,"fila":36,"etiqueta":"Fecha límite"},{"col":4,"fila":37,"etiqueta":"Tareas críticas"},{"col":4,"fila":38,"etiqueta":"División crítica"},{"col":4,"fila":39,"etiqueta":"Progreso"},
{"col":5,"fila":35,"etiqueta":"Progreso manual"},
{"col":1,"fila":81,"etiqueta":"Tarea"},{"col":1,"fila":82,"etiqueta":"División"},{"col":1,"fila":83,"etiqueta":"Hito"},
{"col":2,"fila":81,"etiqueta":"Tarea inactiva"},{"col":2,"fila":82,"etiqueta":"Hito inactivo"},{"col":2,"fila":83,"etiqueta":"Resumen inactivo"},
{"col":3,"fila":81,"etiqueta":"Informe de resumen manual"},{"col":3,"fila":82,"etiqueta":"Resumen manual"},{"col":3,"fila":83,"etiqueta":"solo el comienzo"},
{"col":4,"fila":81,"etiqueta":"Hito externo"},{"col":4,"fila":82,"etiqueta":"Fecha límite"},{"col":4,"fila":83,"etiqueta":"Tareas críticas"},
{"col":5,"fila":81,"etiqueta":"Progreso manual"}
]
},
"encoding":{"y":{"field":"fila","type":"quantitative","axis":null,"scale":{"zero":false,"nice":false,
"domain":[-2,-1,0,1,2,3,4,5,6,7,8,9,10,11,12,13,14,15,16,17,18,19,20,21,22,23,24,25,26,27,28,29,30,31,32,33,34,35,36,37,38,39,40,41,42,43,44,45,46,47,48,49,50,51,52,53,54,55,56,57,58,59,60,61,62,63,64,65,66,67,68,69,70,71,72,73,74,75,76,77,78,79,80,81,82,83,84,85,86],
"range":[18.5,42.7,43,77.5,89,101.5,111.7,122,138.7,155,171.7,188.3,205,215.7,226,236.7,246.7,256.7,267.3,278,288.3,298.7,309.3,320,330,340.7,351,361.7,372,382.7,392.7,403.3,414,424,435,445.3,449,456,466.7,477,488,499,506,513,521.3,558.3,583,583.3,593.3,610,627,637.3,647.7,658,669,679.3,696,706.3,716.7,733.3,744,754.3,765,775.3,785.7,795.7,806,816.7,827,837.7,848.3,859,875.7,886,903,913.3,923.7,934.3,944.7,955,971.7,982,989,996,1006.7,1017,1028,1039,1046]}}},
"layer":[
{"layer":[
{"data":{"name":"lineas"},"transform":[{"filter":"datum.tono=='claro'"}],"mark":{"type":"rule","color":"#cccccc","strokeWidth":0.8},"encoding":{"x":{"field":"col","type":"quantitative","axis":null,"scale":{"zero":false,"nice":false,"domain":[0,1,2,3,4,5,6,7,8],"range":[18,38.5,56.5,73,306,345.5,411.5,473.5,750]}},"x2":{"field":"col2"},"y2":{"field":"fila2"}}},
{"data":{"name":"tareas"},"mark":{"type":"rule","color":"#c2c2c2","strokeWidth":0.9},"encoding":{"x":{"datum":0,"type":"quantitative"},"x2":{"datum":7}}},
{"data":{"name":"lineas"},"transform":[{"filter":"datum.tono=='medio'"}],"mark":{"type":"rule","color":"#8a8a8a","strokeWidth":1},"encoding":{"x":{"field":"col","type":"quantitative"},"x2":{"field":"col2"},"y2":{"field":"fila2"}}},
{"data":{"name":"lineas"},"transform":[{"filter":"datum.tono=='borde'"}],"mark":{"type":"rule","color":"#222222","strokeWidth":1.1},"encoding":{"x":{"field":"col","type":"quantitative"},"x2":{"field":"col2"},"y2":{"field":"fila2"}}},
{"data":{"name":"cabecera"},"mark":{"type":"text","align":"left","baseline":"top","dy":1.6,"fontSize":5.6,"lineHeight":8,"lineBreak":"\n","color":"#555555"},"encoding":{"x":{"field":"col","type":"quantitative"},"text":{"field":"texto"}}},
{"data":{"name":"paginas"},"mark":{"type":"point","shape":"circle","filled":true,"size":16,"opacity":1,"color":"#3f7fc4","yOffset":-3},"encoding":{"x":{"datum":1.17,"type":"quantitative"}}},
{"data":{"name":"tareas"},"mark":{"type":"text","align":"center","baseline":"top","dy":1.4,"fontSize":5.6,"color":"#555555"},"encoding":{"x":{"datum":0.5,"type":"quantitative"},"text":{"field":"id"}}},
{"data":{"name":"tareas"},"transform":[{"filter":"datum.id==2||datum.id==11"}],"mark":{"type":"point","shape":"triangle-down","filled":true,"size":14,"opacity":1,"color":"#35b5a5","yOffset":3.5},"encoding":{"x":{"datum":2.12,"type":"quantitative"}}},
{"data":{"name":"tareas"},"transform":[{"filter":"datum.id!=2&&datum.id!=11"}],"mark":{"type":"point","shape":"square","filled":true,"size":13,"opacity":1,"color":"#4a78b5","yOffset":3.5},"encoding":{"x":{"datum":2.12,"type":"quantitative"}}},
{"data":{"name":"tareas"},"transform":[{"filter":"datum.id==1||datum.id==4"}],"mark":{"type":"text","text":"✓","font":"DejaVu Sans","align":"center","baseline":"top","dy":0.5,"fontSize":7,"color":"#3b6ea5"},"encoding":{"x":{"datum":1.19,"type":"quantitative"}}},
{"data":{"name":"tareas"},"transform":[{"filter":"datum.tipo=='proyecto'"}],"mark":{"type":"text","align":"left","baseline":"top","dy":1.5,"fontSize":8.05,"fontWeight":"bold","lineHeight":11,"lineBreak":"\n","color":"#111111"},"encoding":{"x":{"datum":3.01,"type":"quantitative"},"text":{"field":"nombre"}}},
{"data":{"name":"tareas"},"transform":[{"filter":"datum.tipo=='inicio'||datum.tipo=='redes'"}],"mark":{"type":"text","align":"left","baseline":"top","dy":1.2,"fontSize":7.8,"fontWeight":"bold"},"encoding":{"x":{"datum":3.043,"type":"quantitative"},"text":{"field":"nombre"},"color":{"field":"tipo","type":"nominal","scale":{"domain":["proyecto","inicio","redes","grupo","tarea"],"range":["#111111","#18b4f0","#ff1f2d","#1a1ae0","#505050"]}}}},
{"data":{"name":"tareas"},"transform":[{"filter":"datum.tipo=='grupo'"}],"mark":{"type":"text","align":"left","baseline":"top","dy":1.2,"fontSize":7,"fontWeight":"bold","color":"#1a1ae0"},"encoding":{"x":{"datum":3.073,"type":"quantitative"},"text":{"field":"nombre"}}},
{"data":{"name":"tareas"},"transform":[{"filter":"datum.tipo=='tarea'"}],"mark":{"type":"text","align":"left","baseline":"top","dy":1.4,"fontSize":5.5,"lineHeight":8,"lineBreak":"\n","color":"#505050"},"encoding":{"x":{"datum":3.105,"type":"quantitative"},"text":{"field":"nombre"}}},
{"data":{"name":"tareas"},"transform":[{"filter":"datum.tipo=='tarea'"}],"mark":{"type":"text","align":"left","baseline":"top","dy":1.4,"fontSize":6.1,"color":"#505050"},"encoding":{"x":{"datum":4.01,"type":"quantitative"},"text":{"field":"dur"}}},
{"data":{"name":"tareas"},"transform":[{"filter":"datum.tipo=='tarea'"}],"mark":{"type":"text","align":"left","baseline":"top","dy":1.4,"fontSize":6.1,"color":"#505050"},"encoding":{"x":{"datum":5.02,"type":"quantitative"},"text":{"field":"com"}}},
{"data":{"name":"tareas"},"transform":[{"filter":"datum.tipo=='tarea'"}],"mark":{"type":"text","align":"left","baseline":"top","dy":1.4,"fontSize":6.1,"color":"#505050"},"encoding":{"x":{"datum":6.01,"type":"quantitative"},"text":{"field":"fin"}}},
{"data":{"name":"tareas"},"transform":[{"filter":"datum.tipo!='tarea'"}],"mark":{"type":"text","align":"left","baseline":"top","dy":1.2,"fontWeight":"bold"},"encoding":{"x":{"datum":4.01,"type":"quantitative"},"text":{"field":"dur"},"color":{"field":"tipo","type":"nominal"},"size":{"field":"tipo","type":"nominal","scale":{"type":"ordinal","domain":["proyecto","inicio","redes","grupo"],"range":[7,8.2,8.2,7]}}}},
{"data":{"name":"tareas"},"transform":[{"filter":"datum.tipo!='tarea'"}],"mark":{"type":"text","align":"left","baseline":"top","dy":1.2,"fontWeight":"bold"},"encoding":{"x":{"datum":5.02,"type":"quantitative"},"text":{"field":"com"},"color":{"field":"tipo","type":"nominal"},"size":{"field":"tipo","type":"nominal","scale":{"type":"ordinal","domain":["proyecto","inicio","redes","grupo"],"range":[7,8.2,8.2,7]}}}},
{"data":{"name":"tareas"},"transform":[{"filter":"datum.tipo!='tarea'"}],"mark":{"type":"text","align":"left","baseline":"top","dy":1.2,"fontWeight":"bold"},"encoding":{"x":{"datum":6.01,"type":"quantitative"},"text":{"field":"fin"},"color":{"field":"tipo","type":"nominal"},"size":{"field":"tipo","type":"nominal","scale":{"type":"ordinal","domain":["proyecto","inicio","redes","grupo"],"range":[7,8.2,8.2,7]}}}}
]},
{"layer":[
{"data":{"name":"meses"},"transform":[{"filter":"datum.inicio"}],"mark":{"type":"rule","color":"#777777","strokeWidth":0.8,"yOffset":-6.5,"y2Offset":0},"encoding":{"x":{"field":"inicio","type":"temporal","axis":null,"scale":{"domain":["2022-03-19","2022-09-01"],"range":[496,710]}},"y2":{"field":"fila"}}},
{"data":{"name":"meses"},"transform":[{"filter":"datum.tri"}],"mark":{"type":"rule","color":"#777777","strokeWidth":0.8,"yOffset":-13.7,"y2Offset":0},"encoding":{"x":{"field":"inicio","type":"temporal"},"y2":{"field":"fila"}}},
{"data":{"name":"finaltri"},"mark":{"type":"rule","color":"#777777","strokeWidth":0.8,"yOffset":-13.7,"y2Offset":0},"encoding":{"x":{"field":"fecha","type":"temporal"},"y2":{"field":"fila"}}},
{"data":{"name":"meses"},"mark":{"type":"text","align":"center","baseline":"middle","dy":-2.5,"fontSize":5.5,"color":"#555555"},"encoding":{"x":{"field":"medio","type":"temporal"},"text":{"field":"mes"}}},
{"data":{"name":"meses"},"transform":[{"filter":"datum.tri"}],"mark":{"type":"text","align":"left","baseline":"middle","dy":-9.7,"dx":1.5,"fontSize":5.5,"color":"#555555"},"encoding":{"x":{"field":"inicio","type":"temporal"},"text":{"field":"tri"}}},
{"data":{"name":"guias"},"transform":[{"filter":"datum.c=='gris'"}],"mark":{"type":"rule","color":"#8c8c8c","strokeWidth":1.2},"encoding":{"x":{"field":"x1","type":"temporal"},"x2":{"field":"x2"},"y2":{"field":"f2"}}},
{"data":{"name":"guias"},"transform":[{"filter":"datum.c=='verde'"}],"mark":{"type":"rule","color":"#9ccb94","strokeWidth":1},"encoding":{"x":{"field":"x1","type":"temporal"},"x2":{"field":"x2"},"y2":{"field":"f2"}}},
{"data":{"name":"guias"},"transform":[{"filter":"datum.c=='negro'"}],"mark":{"type":"rule","color":"#444444","strokeWidth":0.9},"encoding":{"x":{"field":"x1","type":"temporal"},"x2":{"field":"x2"},"y2":{"field":"f2"}}},
{"data":{"name":"enlaces"},"transform":[{"filter":"datum.c=='n'"}],"mark":{"type":"rule","color":"#333333","strokeWidth":0.9,"yOffset":5.5,"y2Offset":5.5},"encoding":{"x":{"field":"x1","type":"temporal"},"x2":{"field":"x2"},"y2":{"field":"f2"}}},
{"data":{"name":"enlaces"},"transform":[{"filter":"datum.c=='a'"}],"mark":{"type":"rule","color":"#3030d8","strokeWidth":0.9,"yOffset":5.5,"y2Offset":5.5},"encoding":{"x":{"field":"x1","type":"temporal"},"x2":{"field":"x2"},"y2":{"field":"f2"}}},
{"data":{"name":"flechas"},"mark":{"type":"point","shape":"triangle-down","filled":true,"size":7,"opacity":1,"color":"#2020d0","yOffset":5.5},"encoding":{"x":{"field":"fecha","type":"temporal"}}},
{"data":{"name":"tareas"},"transform":[{"filter":"(datum.id>=12&&datum.id<=32)||(datum.id>=46&&datum.id<=55)"}],"mark":{"type":"rule","color":"#3030d8","strokeWidth":0.9,"xOffset":-4,"x2Offset":0,"yOffset":5.5},"encoding":{"x":{"field":"ini","type":"temporal"},"x2":{"field":"ini"}}},
{"data":{"name":"tareas"},"transform":[{"filter":"datum.tipo=='tarea'"}],"mark":{"type":"rule","color":"#0000cd","strokeWidth":4.9,"yOffset":5.6,"x2Offset":1.3},"encoding":{"x":{"field":"ini","type":"temporal"},"x2":{"field":"ter"}}},
{"data":{"name":"tareas"},"transform":[{"filter":"datum.tipo=='tarea'&&datum.av"}],"mark":{"type":"rule","color":"#3b87d8","strokeWidth":1.2,"yOffset":5.6,"x2Offset":1.3},"encoding":{"x":{"field":"ini","type":"temporal"},"x2":{"field":"av"}}},
{"data":{"name":"tareas"},"transform":[{"filter":"datum.tipo=='grupo'&&datum.id!=11"}],"mark":{"type":"rule","color":"#444444","strokeWidth":1.4,"yOffset":3.7,"x2Offset":1.3},"encoding":{"x":{"field":"ini","type":"temporal"},"x2":{"field":"ter"}}},
{"data":{"name":"tareas"},"transform":[{"filter":"datum.id==2||datum.id==11"}],"mark":{"type":"rule","color":"#777777","strokeWidth":1.5,"yOffset":3.8,"x2Offset":1.3},"encoding":{"x":{"field":"ini","type":"temporal"},"x2":{"field":"ter"}}},
{"data":{"name":"tareas"},"transform":[{"filter":"datum.id==2||datum.id==11"}],"mark":{"type":"rule","color":"#25a0a8","strokeWidth":3.6,"yOffset":6.4,"x2Offset":1.3},"encoding":{"x":{"field":"ini","type":"temporal"},"x2":{"field":"av"}}},
{"data":{"name":"tareas"},"transform":[{"filter":"datum.tipo=='grupo'||datum.id==2"}],"mark":{"type":"rule","color":"#111111","strokeWidth":1.4,"yOffset":3,"y2Offset":8},"encoding":{"x":{"field":"ini","type":"temporal"},"y2":{"field":"fila"}}},
{"data":{"name":"tareas"},"transform":[{"filter":"datum.tipo=='grupo'||datum.id==2"}],"mark":{"type":"rule","color":"#111111","strokeWidth":1.4,"yOffset":3,"y2Offset":8,"xOffset":1.3},"encoding":{"x":{"field":"ter","type":"temporal"},"y2":{"field":"fila"}}},
{"data":{"name":"tareas"},"transform":[{"filter":"datum.id==1"}],"mark":{"type":"point","shape":"diamond","filled":true,"size":14,"opacity":1,"color":"#333333","yOffset":5.2},"encoding":{"x":{"field":"ini","type":"temporal"}}},
{"data":{"name":"tareas"},"transform":[{"filter":"datum.ei!=''"}],"mark":{"type":"text","align":"right","baseline":"middle","dx":-4.5,"dy":3.1,"fontSize":6.3,"fontWeight":"bold","color":"#303030"},"encoding":{"x":{"field":"ini","type":"temporal"},"text":{"field":"ei"}}},
{"data":{"name":"tareas"},"transform":[{"filter":"datum.ef!=''"}],"mark":{"type":"text","align":"left","baseline":"middle","dx":4.5,"dy":3.1,"fontSize":6.3,"fontWeight":"bold","color":"#303030"},"encoding":{"x":{"field":"ter","type":"temporal"},"text":{"field":"ef"}}}
]},
{"layer":[
{"data":{"name":"pies"},"mark":{"type":"text","align":"left","baseline":"top","fontSize":6.3,"lineHeight":9,"lineBreak":"\n","color":"#444444"},"encoding":{"x":{"datum":0.195,"type":"quantitative","axis":null,"scale":{"zero":false,"nice":false,"domain":[1,5],"range":[119.7,610]}},"text":{"field":"texto"}}},
{"data":{"values":[{"fila":41}]},"mark":{"type":"text","text":"Página 1","align":"center","baseline":"middle","fontSize":6.4,"color":"#444444"},"encoding":{"x":{"datum":3.156,"type":"quantitative"}}},
{"data":{"name":"leyenda"},"mark":{"type":"text","align":"left","baseline":"middle","fontSize":5.5,"color":"#555555"},"encoding":{"x":{"field":"col","type":"quantitative"},"text":{"field":"etiqueta"}}},
{"data":{"name":"leyenda"},"transform":[{"filter":{"field":"etiqueta","oneOf":["Tarea","Tarea inactiva","Informe de resumen manual","Tarea manual","solo duración","Tareas externas","Tareas críticas","Progreso","Progreso manual"]}}],"mark":{"type":"rule","xOffset":68.5,"x2Offset":116.5},"encoding":{"x":{"field":"col","type":"quantitative"},"x2":{"field":"col"},"color":{"field":"etiqueta","type":"nominal","scale":{"domain":["Tarea","Tarea inactiva","Informe de resumen manual","Progreso manual","Tarea manual","solo duración","Tareas externas","Tareas críticas","Progreso","División","División crítica","Resumen","Resumen del proyecto","Resumen inactivo","Resumen manual","Hito","Hito inactivo","Hito externo","Fecha límite","solo el comienzo","solo fin"],"range":["#0000cd","#d4d4d4","#25a3ab","#25a3ab","#72cdd4","#72cdd4","#c4c4c4","#ff8a8a","#3b87d8","#7fb8ee","#ffb4b4","#333333","#888888","#aaaaaa","#222222","#444444","#dddddd","#bbbbbb","#6db33f","#128a92","#128a92"]}},"strokeWidth":{"field":"etiqueta","type":"nominal","scale":{"type":"ordinal","domain":["Tarea","Tarea inactiva","Informe de resumen manual","Tarea manual","solo duración","Tareas externas","Tareas críticas","Progreso","Progreso manual"],"range":[5,4.2,2.6,5,5,5,5.5,1.6,2.6]}}}},
{"data":{"name":"leyenda"},"transform":[{"filter":"datum.etiqueta=='Tarea inactiva'"}],"mark":{"type":"rule","xOffset":69,"x2Offset":116,"color":"white","strokeWidth":3.2},"encoding":{"x":{"field":"col","type":"quantitative"},"x2":{"field":"col"}}},
{"data":{"name":"leyenda"},"transform":[{"filter":{"field":"etiqueta","oneOf":["División","División crítica"]}}],"mark":{"type":"rule","xOffset":68.5,"x2Offset":116.5,"strokeWidth":1.6,"strokeDash":[1.5,2],"yOffset":1},"encoding":{"x":{"field":"col","type":"quantitative"},"x2":{"field":"col"},"color":{"field":"etiqueta","type":"nominal"}}},
{"data":{"name":"leyenda"},"transform":[{"filter":{"field":"etiqueta","oneOf":["Resumen","Resumen del proyecto","Resumen inactivo","Resumen manual"]}}],"mark":{"type":"rule","xOffset":69,"x2Offset":115,"strokeWidth":1.2,"yOffset":-1},"encoding":{"x":{"field":"col","type":"quantitative"},"x2":{"field":"col"},"color":{"field":"etiqueta","type":"nominal"}}},
{"data":{"name":"leyenda"},"transform":[{"filter":{"field":"etiqueta","oneOf":["Resumen","Resumen del proyecto","Resumen inactivo","Resumen manual"]}}],"mark":{"type":"rule","xOffset":69,"strokeWidth":1.4,"yOffset":-1.5,"y2Offset":3},"encoding":{"x":{"field":"col","type":"quantitative"},"y2":{"field":"fila"},"color":{"field":"etiqueta","type":"nominal"}}},
{"data":{"name":"leyenda"},"transform":[{"filter":{"field":"etiqueta","oneOf":["Resumen","Resumen del proyecto","Resumen inactivo","Resumen manual"]}}],"mark":{"type":"rule","xOffset":115,"strokeWidth":1.4,"yOffset":-1.5,"y2Offset":3},"encoding":{"x":{"field":"col","type":"quantitative"},"y2":{"field":"fila"},"color":{"field":"etiqueta","type":"nominal"}}},
{"data":{"name":"leyenda"},"transform":[{"filter":{"field":"etiqueta","oneOf":["Hito","Hito inactivo","Hito externo","Fecha límite"]}}],"mark":{"type":"point","filled":true,"size":11,"opacity":1,"xOffset":71},"encoding":{"x":{"field":"col","type":"quantitative"},"color":{"field":"etiqueta","type":"nominal"},"shape":{"field":"etiqueta","type":"nominal","scale":{"domain":["Hito","Hito inactivo","Hito externo","Fecha límite"],"range":["diamond","circle","circle","circle"]}}}},
{"data":{"name":"leyenda"},"transform":[{"filter":"datum.etiqueta=='solo el comienzo'"}],"mark":{"type":"text","text":"[","fontWeight":"bold","fontSize":7,"baseline":"middle","align":"left","xOffset":68,"color":"#128a92"},"encoding":{"x":{"field":"col","type":"quantitative"}}},
{"data":{"name":"leyenda"},"transform":[{"filter":"datum.etiqueta=='solo fin'"}],"mark":{"type":"text","text":"]","fontWeight":"bold","fontSize":7,"baseline":"middle","align":"left","xOffset":69,"color":"#128a92"},"encoding":{"x":{"field":"col","type":"quantitative"}}}
]}
],
"resolve":{"scale":{"x":"independent","color":"independent"}}}
